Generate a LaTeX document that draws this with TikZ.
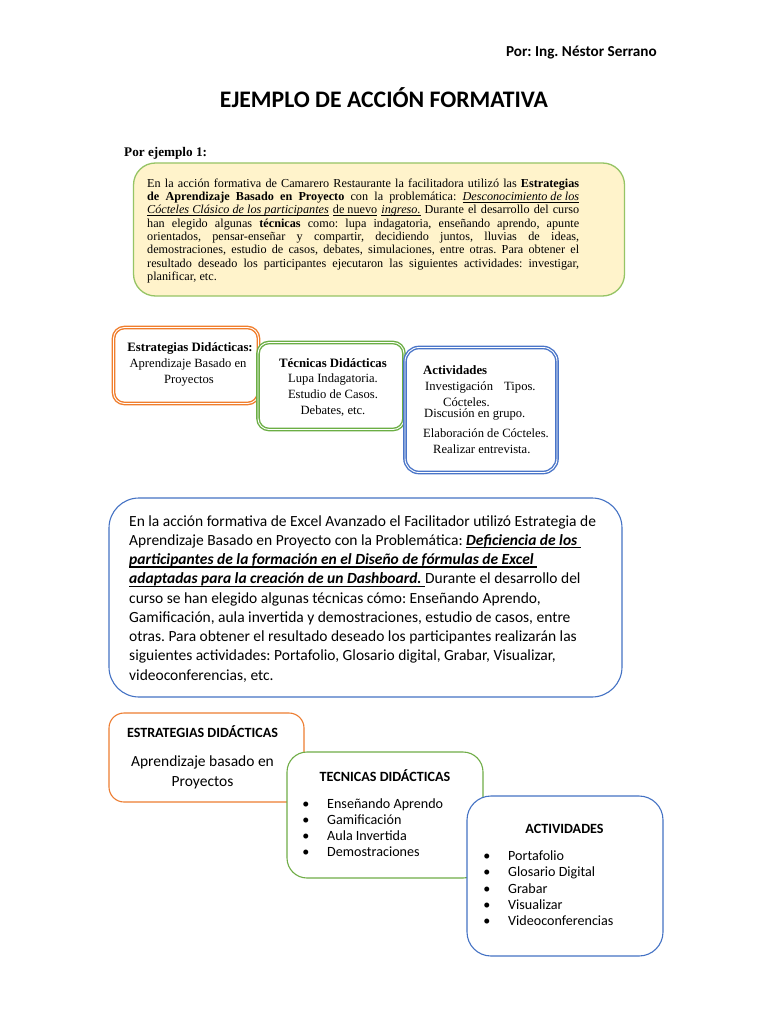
\documentclass[tikz,border=0pt]{standalone}
\usepackage{fontspec}
\newfontfamily\calfont{Carlito}
\newfontfamily\serfont{Liberation Serif}
\definecolor{orgA}{HTML}{F07D2C}
\definecolor{grnA}{HTML}{6BAE44}
\definecolor{bluA}{HTML}{4A75C8}
\definecolor{yelF}{HTML}{FFF3CB}
\definecolor{yelB}{HTML}{96C465}
\definecolor{orgB}{HTML}{ED7D31}
\definecolor{grnB}{HTML}{70AD47}
\definecolor{bluB}{HTML}{4472C4}
\newcommand{\bui}[1]{{\setbox0\hbox{\textbf{\textit{#1}}}\rlap{\rule[-3pt]{\wd0}{1.1pt}}\box0}}
\newcommand{\sul}[1]{{\setbox0\hbox{#1}\rlap{\rule[-2pt]{\wd0}{0.6pt}}\box0}}
\frenchspacing
\tikzset{
  txt/.style={inner sep=0pt, anchor=base west},
  txtc/.style={inner sep=0pt, anchor=base},
  sone/.style={font=\serfont\fontsize{12.2}{13.3}\selectfont},
  sbox/.style={font=\serfont\fontsize{12.6}{16}\selectfont},
  sboxb/.style={font=\serfont\bfseries\fontsize{12.8}{16}\selectfont},
  stwo/.style={font=\calfont\fontsize{15.5}{19.25}\selectfont},
  slist/.style={font=\calfont\fontsize{14.1}{16}\selectfont},
  shead/.style={font=\calfont\bfseries\fontsize{14.1}{16}\selectfont},
  dbox/.style={rounded corners=11pt, line width=1.4pt, double=white, double distance=0.9pt, fill=white, inner sep=0pt},
  sbox2/.style={rounded corners=#1, line width=1.1pt, fill=white, inner sep=0pt},
}
\begin{document}
\begin{tikzpicture}[x=1pt,y=-1pt]
\useasboundingbox[fill=white] (0,0) rectangle (768,1024);

% header
\node (por) [inner sep=0pt, anchor=base east, font=\calfont\bfseries\fontsize{15.2}{18}\selectfont] at (657,57) {Por: Ing. Néstor Serrano};
\node (title) [txtc, font=\calfont\bfseries\fontsize{23.7}{28}\selectfont] at (384,108) {EJEMPLO DE ACCIÓN FORMATIVA};

% ---------- example 1 ----------
\node (pe) [txt, font=\serfont\bfseries\fontsize{13.2}{14}\selectfont] at (124,157) {Por ejemplo 1:};
\node (ybox) [draw=yelB, fill=yelF, line width=1.3pt, rounded corners=22pt, minimum width=491pt, minimum height=133pt, inner sep=0pt] at (379,229.5) {};
\node (l1) [txt, sone] at (147,187.3) {\makebox[432pt][s]{En la acción formativa de Camarero Restaurante la facilitadora utilizó las \textbf{Estrategias}}};
\node (l2) [txt, sone] at (147,200.6) {\makebox[432pt][s]{\textbf{de Aprendizaje Basado en Proyecto} con la problemática: \sul{\textit{Desconocimiento de los}}}};
\node (l3) [txt, sone] at (147,213.9) {\makebox[432pt][s]{\sul{\textit{Cócteles Clásico de los participantes}} \sul{de nuevo} \sul{\textit{ingreso.}} Durante el desarrollo del curso}};
\node (l4) [txt, sone] at (147,227.2) {\makebox[432pt][s]{han elegido algunas \textbf{técnicas} como: lupa indagatoria, enseñando aprendo, apunte}};
\node (l5) [txt, sone] at (147,240.5) {\makebox[432pt][s]{orientados, pensar-enseñar y compartir, decidiendo juntos, lluvias de ideas,}};
\node (l6) [txt, sone] at (147,253.8) {\makebox[432pt][s]{demostraciones, estudio de casos, debates, simulaciones, entre otras. Para obtener el}};
\node (l7) [txt, sone] at (147,267.1) {\makebox[432pt][s]{resultado deseado los participantes ejecutaron las siguientes actividades: investigar,}};
\node (l8) [txt, sone] at (147,280.4) {planificar, etc.};

% three boxes example 1
\node (ob1) [dbox, draw=orgA, minimum width=145pt, minimum height=76pt] at (186,365.5) {};
\node (ob1a) [txtc, sboxb] at (190,351) {Estrategias Didácticas:};
\node (ob1b) [txtc, sbox] at (188,367) {Aprendizaje Basado en};
\node (ob1c) [txtc, sbox] at (189,383) {Proyectos};

\node (gb1) [dbox, draw=grnA, minimum width=146pt, minimum height=87pt] at (331,386) {};
\node (gb1a) [txtc, sboxb] at (333,367) {Técnicas Didácticas};
\node (gb1b) [txtc, sbox] at (333,382.5) {Lupa Indagatoria.};
\node (gb1c) [txtc, sbox] at (333,398.5) {Estudio de Casos.};
\node (gb1d) [txtc, sbox] at (333,414.5) {Debates, etc.};

\node (bb1) [dbox, rounded corners=14pt, draw=bluA, minimum width=152pt, minimum height=125pt] at (481,410) {};
\node (bb1a) [txt, sboxb] at (423,374) {Actividades};
\node (bb1b) [txt, sbox] at (425,390) {Investigación};
\node (bb1c) [txt, sbox] at (504,390) {Tipos.};
\node (bb1d) [txt, sbox] at (443,406) {Cócteles.};
\node (bb1e) [txt, sbox] at (424,417.5) {Discusión en grupo.};
\node (bb1f) [txt, sbox] at (423,437) {Elaboración de Cócteles.};
\node (bb1g) [txt, sbox] at (433,453) {Realizar entrevista.};

% ---------- example 2 ----------
\node (big) [draw=bluB, line width=1.1pt, rounded corners=30pt, minimum width=513pt, minimum height=199pt, inner sep=0pt] at (365.5,597.5) {};
\node (m1) [txt, stwo] at (129,526) {En la acción formativa de Excel Avanzado el Facilitador utilizó Estrategia de};
\node (m2) [txt, stwo] at (129,545.3) {Aprendizaje Basado en Proyecto con la Problemática: \bui{Deficiencia de los\ }};
\node (m3) [txt, stwo] at (129,564.5) {\bui{participantes de la formación en el Diseño de fórmulas de Excel\ }};
\node (m4) [txt, stwo] at (129,583.8) {\bui{adaptadas para la creación de un Dashboard.\ }Durante el desarrollo del};
\node (m5) [txt, stwo] at (129,603) {curso se han elegido algunas técnicas cómo: Enseñando Aprendo,};
\node (m6) [txt, stwo] at (129,622.3) {Gamificación, aula invertida y demostraciones, estudio de casos, entre};
\node (m7) [txt, stwo] at (129,641.5) {otras. Para obtener el resultado deseado los participantes realizarán las};
\node (m8) [txt, stwo] at (129,660.8) {siguientes actividades: Portafolio, Glosario digital, Grabar, Visualizar,};
\node (m9) [txt, stwo] at (129,680) {videoconferencias, etc.};

% orange
\node (ob2) [sbox2=15pt, draw=orgB, minimum width=195pt, minimum height=89pt] at (206.5,757.5) {};
\node (ob2a) [txtc, shead] at (202.5,737) {ESTRATEGIAS DIDÁCTICAS};
\node (ob2b) [txtc, stwo] at (202.5,766) {Aprendizaje basado en};
\node (ob2c) [txtc, stwo] at (202.5,786) {Proyectos};
% green
\node (gb2) [sbox2=20pt, draw=grnB, minimum width=196pt, minimum height=126pt] at (385,815) {};
\node (gb2a) [txtc, shead] at (385,781) {TECNICAS DIDÁCTICAS};
\foreach \t/\yy [count=\i] in {Enseñando Aprendo/808.5, Gamificación/824.5, Aula Invertida/840.5, Demostraciones/856.5}{
  \node (gbu\i) [txtc, slist] at (306,\yy) {•};
  \node (gbt\i) [txt, slist] at (327,\yy) {\t};
}
% blue
\node (bb2) [sbox2=24pt, draw=bluB, minimum width=196pt, minimum height=160pt] at (565,876) {};
\node (bb2a) [txtc, shead] at (564.5,833) {ACTIVIDADES};
\foreach \t/\yy [count=\i] in {Portafolio/860.5, Glosario Digital/876.7, Grabar/893, Visualizar/909.3, Videoconferencias/925.5}{
  \node (bbu\i) [txtc, slist] at (487,\yy) {•};
  \node (bbt\i) [txt, slist] at (508,\yy) {\t};
}
\end{tikzpicture}
\end{document}
